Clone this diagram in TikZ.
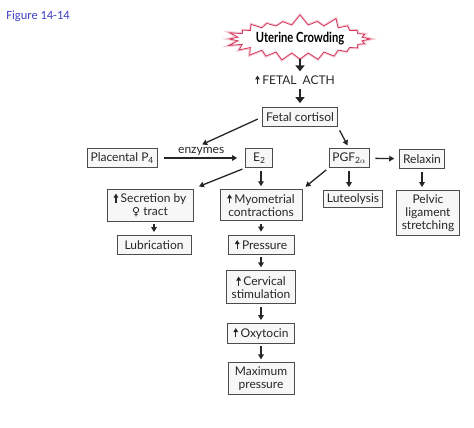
\documentclass[tikz,border=0pt]{standalone}
\usepackage{fontspec}
\setmainfont{Lato}
\newfontfamily\figfont{Carlito}
\newfontfamily\symbfont{DejaVu Sans}
\usetikzlibrary{arrows.meta,positioning,shapes.symbols}
\definecolor{figblue}{RGB}{64,64,200}
\definecolor{burstred}{RGB}{212,52,88}
\newcommand{\incr}{\tikz[baseline=0pt]\draw[-{Triangle[length=4pt,width=4.6pt]},line width=1.2pt] (0pt,0pt) -- (0pt,9pt);\hspace{2.5pt}}
\newcommand{\lowsub}[1]{\raisebox{-2.6pt}{\fontsize{8.5}{9}\selectfont #1}}

\begin{document}
\begin{tikzpicture}[x=1pt, y=-1pt,
  box/.style={draw=black!70, fill=black!3, line width=0.7pt, text=black!85, align=center,
    inner xsep=3.5pt, inner ysep=4pt, minimum height=19pt, font=\fontsize{12}{13}\selectfont},
  arr/.style={-{Triangle[length=5pt,width=5.5pt]}, line width=1.3pt, black!85,
    shorten <=3pt, shorten >=3pt},
  bigarr/.style={-{Triangle[length=6pt,width=9pt]}, line width=2.8pt, black!85},
  burst/.style={starburst, starburst points=24, starburst point height=11pt,
    random starburst=7, draw=burstred, fill=white, line width=0.8pt,
    preaction={draw=burstred!25, line width=3pt},
    minimum width=140pt, minimum height=50pt, inner sep=0pt}]
  \useasboundingbox (0,0) rectangle (474,428);

  \node[text=figblue, font=\figfont\fontsize{12.5}{14}\selectfont] (fig) at (38,16) {Figure 14-14};

  % top of the cascade
  \node[burst] (crowd) at (300,39)
    {\fontsize{14}{16}\selectfont\bfseries\scalebox{0.8}[1]{Uterine Crowding}};
  \node[font=\fontsize{12}{14}\selectfont, text=black!85] (acth) at (295,80) {\incr FETAL\ \ ACTH};
  \node[box] (cortisol) at (300,117) {Fetal cortisol};
  \draw[bigarr] ([yshift=-20pt]crowd.center) -- (crowd |- acth.north);
  \draw[bigarr] (crowd |- acth.south) -- ([yshift=4pt]cortisol.north);

  % second row
  \node[box] (p4) at (122,158) {Placental P\lowsub{4}};
  \node[box, minimum width=27pt] (e2) at (259,158) {E\lowsub{2}};
  \node[box] (pgf) at (349,158) {PGF\lowsub{2$\alpha$}};
  \node[box] (relaxin) at (422,159) {Relaxin};
  \draw[arr, shorten <=7pt, shorten >=8pt] (p4) -- node[above, inner sep=1.8pt, text=black!85,
    font=\fontsize{12}{13}\selectfont] (enz) {enzymes} (e2);
  \draw[arr, shorten <=5pt, shorten >=1pt] (cortisol.west) -- (enz.north);
  \draw[arr, shorten <=4pt] (cortisol.south east) -- (pgf.north);
  \draw[arr, shorten <=6pt, shorten >=5pt] (pgf) -- (relaxin);

  % third row
  \node[box, minimum width=86pt] (sec) at (150,205) {\incr Secretion by\\{\symbfont\fontsize{11}{12}\selectfont ♀} tract};
  \node[box, minimum width=82pt] (myo) at (261,205) {\incr Myometrial\\contractions};
  \node[box, minimum height=17pt, inner ysep=2pt] (lut) at (353,199) {Luteolysis};
  \node[box, minimum width=63pt] (pelvic) at (428,213) {Pelvic\\ligament\\stretching};
  \draw[arr, shorten >=6pt] (e2.south west) -- (sec.north east);
  \draw[arr] (e2.south -| myo) -- (myo);
  \draw[arr, shorten >=4pt] (pgf.south west) -- (myo.north east);
  \draw[arr] (pgf.south) -- (pgf.south |- lut.north);
  \draw[arr] (relaxin.south) -- (relaxin.south |- pelvic.north);

  % chain down to maximum pressure
  \node[box, minimum width=74pt] (lub) at (154,245) {Lubrication};
  \node[box, minimum width=66pt, below=14pt of myo] (press) {\incr Pressure};
  \node[box, minimum width=69pt, minimum height=33pt, below=16pt of press] (cerv) {\incr Cervical\\stimulation};
  \node[box, minimum width=67pt, below=19pt of cerv] (oxy) {\incr Oxytocin};
  \node[box, minimum width=66pt, minimum height=31pt, below=19pt of oxy] (maxp) {Maximum\\pressure};
  \draw[arr] (sec.south -| lub) -- (lub);
  \draw[arr] (myo) -- (press);
  \draw[arr] (press) -- (cerv);
  \draw[arr] (cerv) -- (oxy);
  \draw[arr] (oxy) -- (maxp);

\end{tikzpicture}
\end{document}
